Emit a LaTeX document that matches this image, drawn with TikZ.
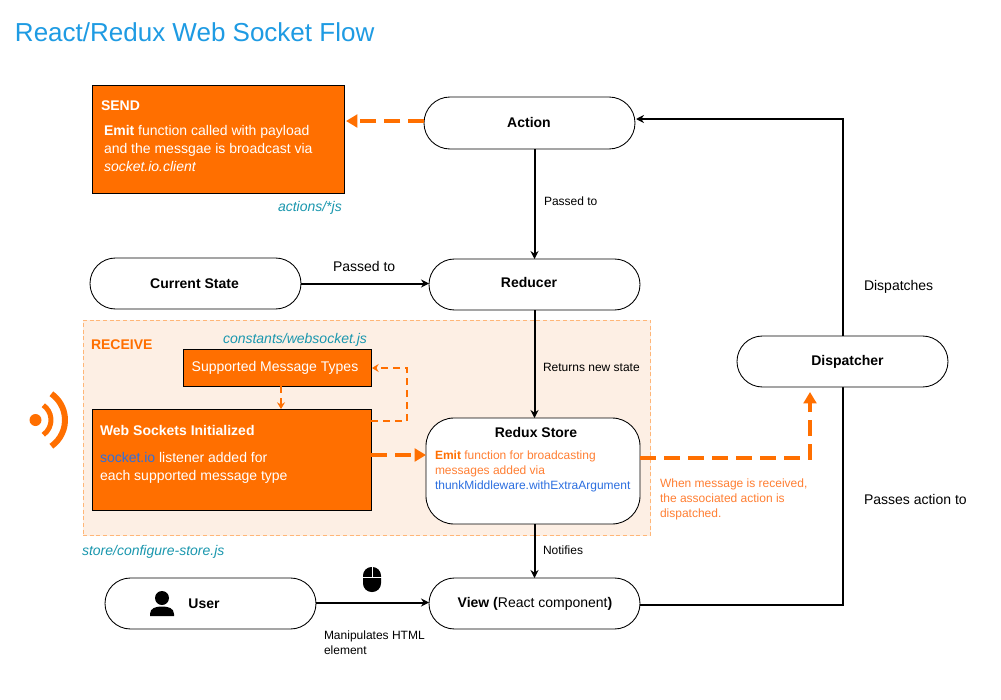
\documentclass[tikz,border=0pt]{standalone}
\usepackage{fontspec}
\setmainfont{Liberation Sans}
\usetikzlibrary{arrows.meta}
\definecolor{og}{HTML}{FF6F00}
\definecolor{ogl}{HTML}{FF7F33}
\definecolor{bgp}{HTML}{FDEFE4}
\definecolor{bgb}{HTML}{FFB677}
\definecolor{teal1}{HTML}{1A97AE}
\definecolor{blue1}{HTML}{1E9BE3}
\definecolor{blue2}{HTML}{2C6FE0}
\newcommand{\pxf}[2]{\fontsize{#1}{#2}\selectfont}
\tikzset{
  x=0.75pt,y=-0.75pt,
  every node/.style={inner sep=0pt,outer sep=0pt},
  pill/.style 2 args={draw=black,line width=0.65pt,fill=white,rounded corners=#2*0.75pt,minimum width=211*0.75pt,minimum height=#1*0.75pt},
  orbox/.style 2 args={draw=black,line width=0.75pt,fill=og,minimum width=#1*0.75pt,minimum height=#2*0.75pt},
  flow/.style={draw=black,line width=1.5pt,-{Stealth[length=6pt,width=6pt]}},
  dashbig/.style={draw=og,line width=3pt,dash pattern=on 12pt off 6pt,-{Triangle[length=8.5pt,width=9.5pt,fill=og]}},
  dashsmall/.style={draw=og,line width=1.5pt,dash pattern=on 5.5pt off 3.5pt,-{Stealth[length=5pt,width=6pt]}},
  lbl/.style={anchor=base west,text=black,font=\pxf{9pt}{11pt}},
  lblbig/.style={anchor=base west,text=black,font=\pxf{10.5pt}{12pt}},
  pathlbl/.style={anchor=base west,text=teal1,font=\pxf{10.5pt}{12pt}\itshape},
  boldlbl/.style={font=\pxf{10.5pt}{12pt}\bfseries},
  whitetxt/.style={anchor=base west,text=white,font=\pxf{10.5pt}{12pt}},
  ogtxt/.style={anchor=base west,text=ogl,font=\pxf{9pt}{11pt}},
}
\begin{document}
\begin{tikzpicture}
\useasboundingbox (0,0) rectangle (1001,700);
\fill[white] (0,0) rectangle (1001,700);
\node[anchor=base west,text=blue1,font=\pxf{19.5pt}{24pt}] (title) at (15,41) {React/Redux Web Socket Flow};

% receive panel
\node[draw=bgb,fill=bgp,densely dashed,line width=0.6pt,minimum width=567.5*0.75pt,minimum height=215.5*0.75pt,anchor=north west] (panel) at (83,320) {};

% nodes
\node[orbox={252}{108},anchor=north west] (send) at (92,85) {};
\node[pill={52}{26}] (action) at (529.5,123) {};
\node[pill={51}{25.5}] (reducer) at (534.5,284.5) {};
\node[pill={51}{25.5}] (current) at (195.5,283.5) {};
\node[orbox={188}{37},anchor=north west] (types) at (183,349) {};
\node[orbox={279}{101},anchor=north west] (ws) at (92,409) {};
\node[pill={106}{28},minimum width=214*0.75pt] (store) at (533,471) {};
\node[pill={51}{25.5}] (user) at (210.5,603.5) {};
\node[pill={51}{25.5}] (view) at (534.5,603.5) {};

% named connector ends
\coordinate (sendin) at (346,121);
\coordinate (actout) at (424,121);
\coordinate (typesin) at (372,368);
\coordinate (wsout) at (371,421);
\coordinate (wsc) at (407,421);
\coordinate (wsd) at (407,368);
\coordinate (typesdown) at (281,386);
\coordinate (wsin) at (281,409);
\coordinate (wsmid) at (371,455);
\coordinate (storein) at (426,455);
\coordinate (storeout) at (640,458);
\coordinate (stc) at (810,458);
\coordinate (dispin) at (810,392);
\coordinate (viewout) at (640,605);
\coordinate (vc) at (843,605);
\coordinate (ac) at (843,119);
\coordinate (actin) at (636,119);

% connectors
\draw[flow] (reducer.north |- action.south) -- (reducer.north);
\draw[flow] (current.east) -- (reducer.west |- current.east);
\draw[flow] (reducer.south) -- (reducer.south |- store.north);
\draw[flow] (view.north |- store.south) -- (view.north);
\draw[flow] ([yshift=0.75pt]user.east) -- ([yshift=0.75pt]view.west);
\draw[flow] (viewout) -- (vc) -- (ac) -- (actin);
\draw[dashbig] (actout) -- (sendin);
\draw[dashbig] (wsmid) -- (storein);
\draw[dashsmall] (wsout) -- (wsc) -- (wsd) -- (typesin);
\draw[dashsmall] (typesdown) -- (wsin);
\draw[dashbig] (storeout) -- (stc) -- (dispin);

\node[pill={51}{25.5}] (disp) at (842.5,361.5) {};

% node texts
\node[boldlbl] (actiont) at (529,122) {Action};
\node[boldlbl] (reducert) at (529,282) {Reducer};
\node[boldlbl] (currentt) at (194.5,284) {Current State};
\node[boldlbl] (dispt) at (847.5,362) {Dispatcher};
\node[boldlbl] (usert) at (204,604) {User};
\node[font=\pxf{10.5pt}{12pt}] (viewt) at (535,604) {\textbf{View (}React component\textbf{)}};
\node[boldlbl] (storet) at (536,432) {Redux Store};

\node[whitetxt,font=\pxf{10.5pt}{12pt}\bfseries] (sendh) at (101,110) {SEND};
\node[whitetxt] (s1) at (104,135) {\textbf{Emit} function called with payload};
\node[whitetxt] (s2) at (104,153) {and the messgae is broadcast via};
\node[whitetxt,font=\pxf{10.5pt}{12pt}\itshape] (s3) at (104,171) {socket.io.client};
\node[pathlbl] (actp) at (278,211) {actions/*js};

\node[anchor=base west,text=og,font=\pxf{10.5pt}{12pt}\bfseries] (recv) at (91,349) {RECEIVE};
\node[pathlbl] (constp) at (223,343) {constants/websocket.js};
\node[anchor=center,text=white,font=\pxf{10.5pt}{12pt}] (typest) at (275,368) {Supported Message Types};
\node[whitetxt,font=\pxf{10.5pt}{12pt}\bfseries] (wsh) at (100,435) {Web Sockets Initialized};
\node[whitetxt] (w1) at (100,462) {\textcolor{blue2}{socket.io} listener added for};
\node[whitetxt] (w2) at (100,480) {each supported message type};
\node[pathlbl] (storep) at (82,555) {store/configure-store.js};

\node[ogtxt] (e1) at (435,459) {\textcolor{og}{\textbf{Emit}} function for broadcasting};
\node[ogtxt] (e2) at (435,474) {messages added via};
\node[ogtxt,text=blue2] (e3) at (435,489) {thunkMiddleware.withExtraArgument};

\node[ogtxt] (m1) at (660,487) {When message is received,};
\node[ogtxt] (m2) at (660,502) {the associated action is};
\node[ogtxt] (m3) at (660,517) {dispatched.};

\node[lbl] (l1) at (544,205) {Passed to};
\node[lblbig] (l2) at (333,271) {Passed to};
\node[lbl] (l3) at (543,371) {Returns new state};
\node[lbl] (l4) at (543,554) {Notifies};
\node[lbl] (l5) at (324,639) {Manipulates HTML};
\node[lbl] (l6) at (324,654) {element};
\node[lblbig] (l7) at (864,290) {Dispatches};
\node[lblbig] (l8) at (864,504) {Passes action to};

% wifi icon
\coordinate (wc) at (33,420);
\fill[og] (35.5,420) circle[radius=6];
\draw[og,line width=3.75pt] ([shift={(-55:13.5pt)}]wc) arc[start angle=-55,end angle=55,radius=13.5pt];
\draw[og,line width=4.5pt] ([shift={(-55:24pt)}]wc) arc[start angle=-55,end angle=55,radius=24pt];

% mouse icon
\fill[black,rounded corners=6.5pt] (363,567) rectangle (381,592);
\draw[white,line width=0.75pt] (362,577) -- (382,577);
\draw[white,line width=0.75pt] (372,566) -- (372,577);

% user icon
\fill[black] (162,598) circle[radius=7];
\fill[black] (150,616) -- (150,614) .. controls (150,608) and (156,606.5) .. (162,606.5) .. controls (168,606.5) and (174,608) .. (174,614) -- (174,616) -- cycle;
\end{tikzpicture}
\end{document}
